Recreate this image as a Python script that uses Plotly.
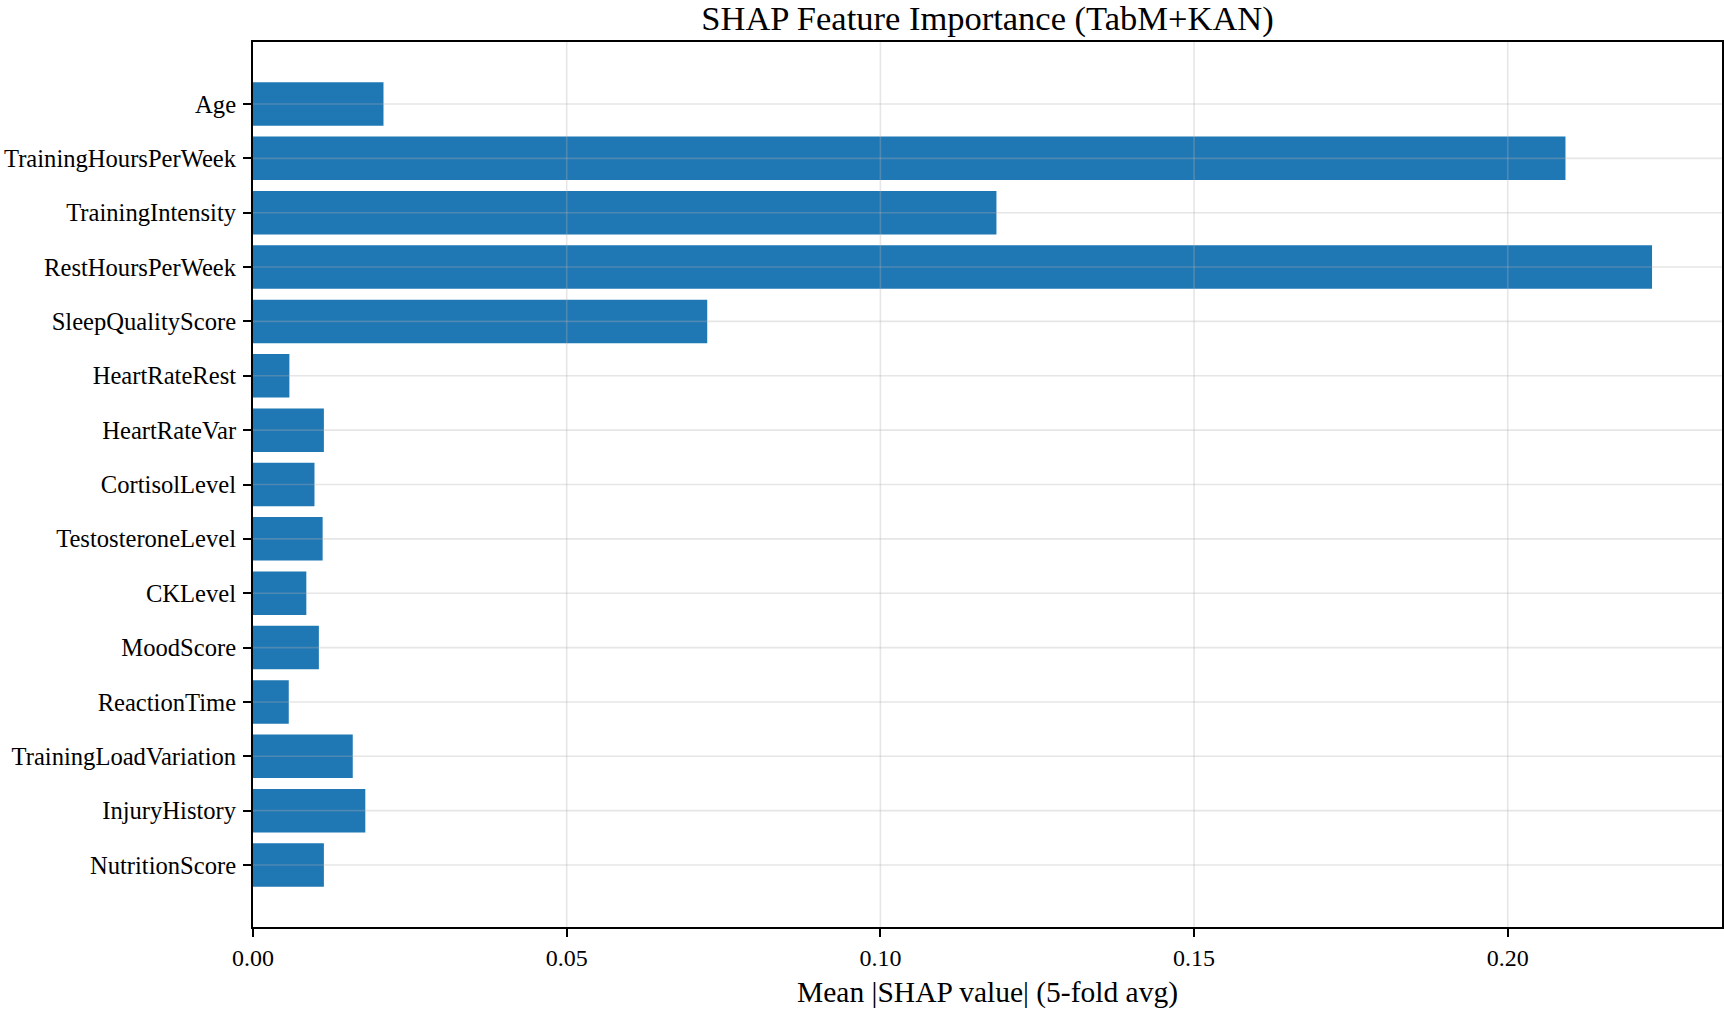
import plotly.graph_objects as go

features = ["Age", "TrainingHoursPerWeek", "TrainingIntensity", "RestHoursPerWeek",
            "SleepQualityScore", "HeartRateRest", "HeartRateVar", "CortisolLevel",
            "TestosteroneLevel", "CKLevel", "MoodScore", "ReactionTime",
            "TrainingLoadVariation", "InjuryHistory", "NutritionScore"]
mean_shap = [0.0208, 0.2092, 0.1185, 0.2230, 0.0724, 0.0058, 0.0113, 0.0098,
             0.0111, 0.0085, 0.0105, 0.0057, 0.0159, 0.0179, 0.0113]
x_ticks = [0.00, 0.05, 0.10, 0.15, 0.20]
x_tick_labels = ["0.00", "0.05", "0.10", "0.15", "0.20"]

FONT = "Liberation Serif"
BAR = "#1f77b4"
GRID = "rgba(176,176,176,0.32)"

fig = go.Figure()
fig.add_trace(go.Bar(
    x=mean_shap, y=features, orientation="h",
    marker=dict(color=BAR, line=dict(width=0)),
    showlegend=False,
))

n = len(features)
xmax = max(mean_shap) * 1.05
ypad = 0.4 + (n - 1 + 0.8) * 0.05

shapes = []
for t in x_ticks[1:]:
    shapes.append(dict(type="line", xref="x", yref="paper", x0=t, x1=t, y0=0, y1=1,
                       line=dict(color=GRID, width=1.6), layer="above"))
for i in range(n):
    shapes.append(dict(type="line", xref="paper", yref="y", x0=0, x1=1, y0=i, y1=i,
                       line=dict(color=GRID, width=1.6), layer="above"))

fig.update_layout(
    width=1724, height=1011,
    margin=dict(l=253, r=2, t=42, b=84),
    paper_bgcolor="white", plot_bgcolor="white",
    bargap=0.2,
    shapes=shapes,
    title=dict(text="SHAP Feature Importance (TabM+KAN)", x=0.5, xref="paper",
               xanchor="center", y=1, yref="paper", yanchor="bottom",
               pad=dict(b=12), font=dict(family=FONT, size=34.5, color="black")),
    font=dict(family=FONT, color="black"),
)
fig.update_xaxes(
    range=[0, xmax], tickvals=x_ticks, ticktext=x_tick_labels,
    showgrid=False, zeroline=False, automargin=False,
    showline=True, linecolor="black", linewidth=2, mirror=True,
    ticks="outside", ticklen=8, tickwidth=2, tickcolor="black",
    tickfont=dict(family=FONT, size=24, color="black"),
    title=dict(text="Mean |SHAP value| (5-fold avg)", font=dict(family=FONT, size=29.5, color="black"),
               standoff=12),
)
fig.update_yaxes(
    type="category", categoryorder="array", categoryarray=features,
    range=[n - 1 + ypad, -ypad],
    showgrid=False, zeroline=False, automargin=False,
    showline=True, linecolor="black", linewidth=2, mirror=True,
    ticks="outside", ticklen=8, tickwidth=2, tickcolor="black",
    ticklabelstandoff=2,
    tickfont=dict(family=FONT, size=24.6, color="black"),
)

fig.write_html("out.html")
